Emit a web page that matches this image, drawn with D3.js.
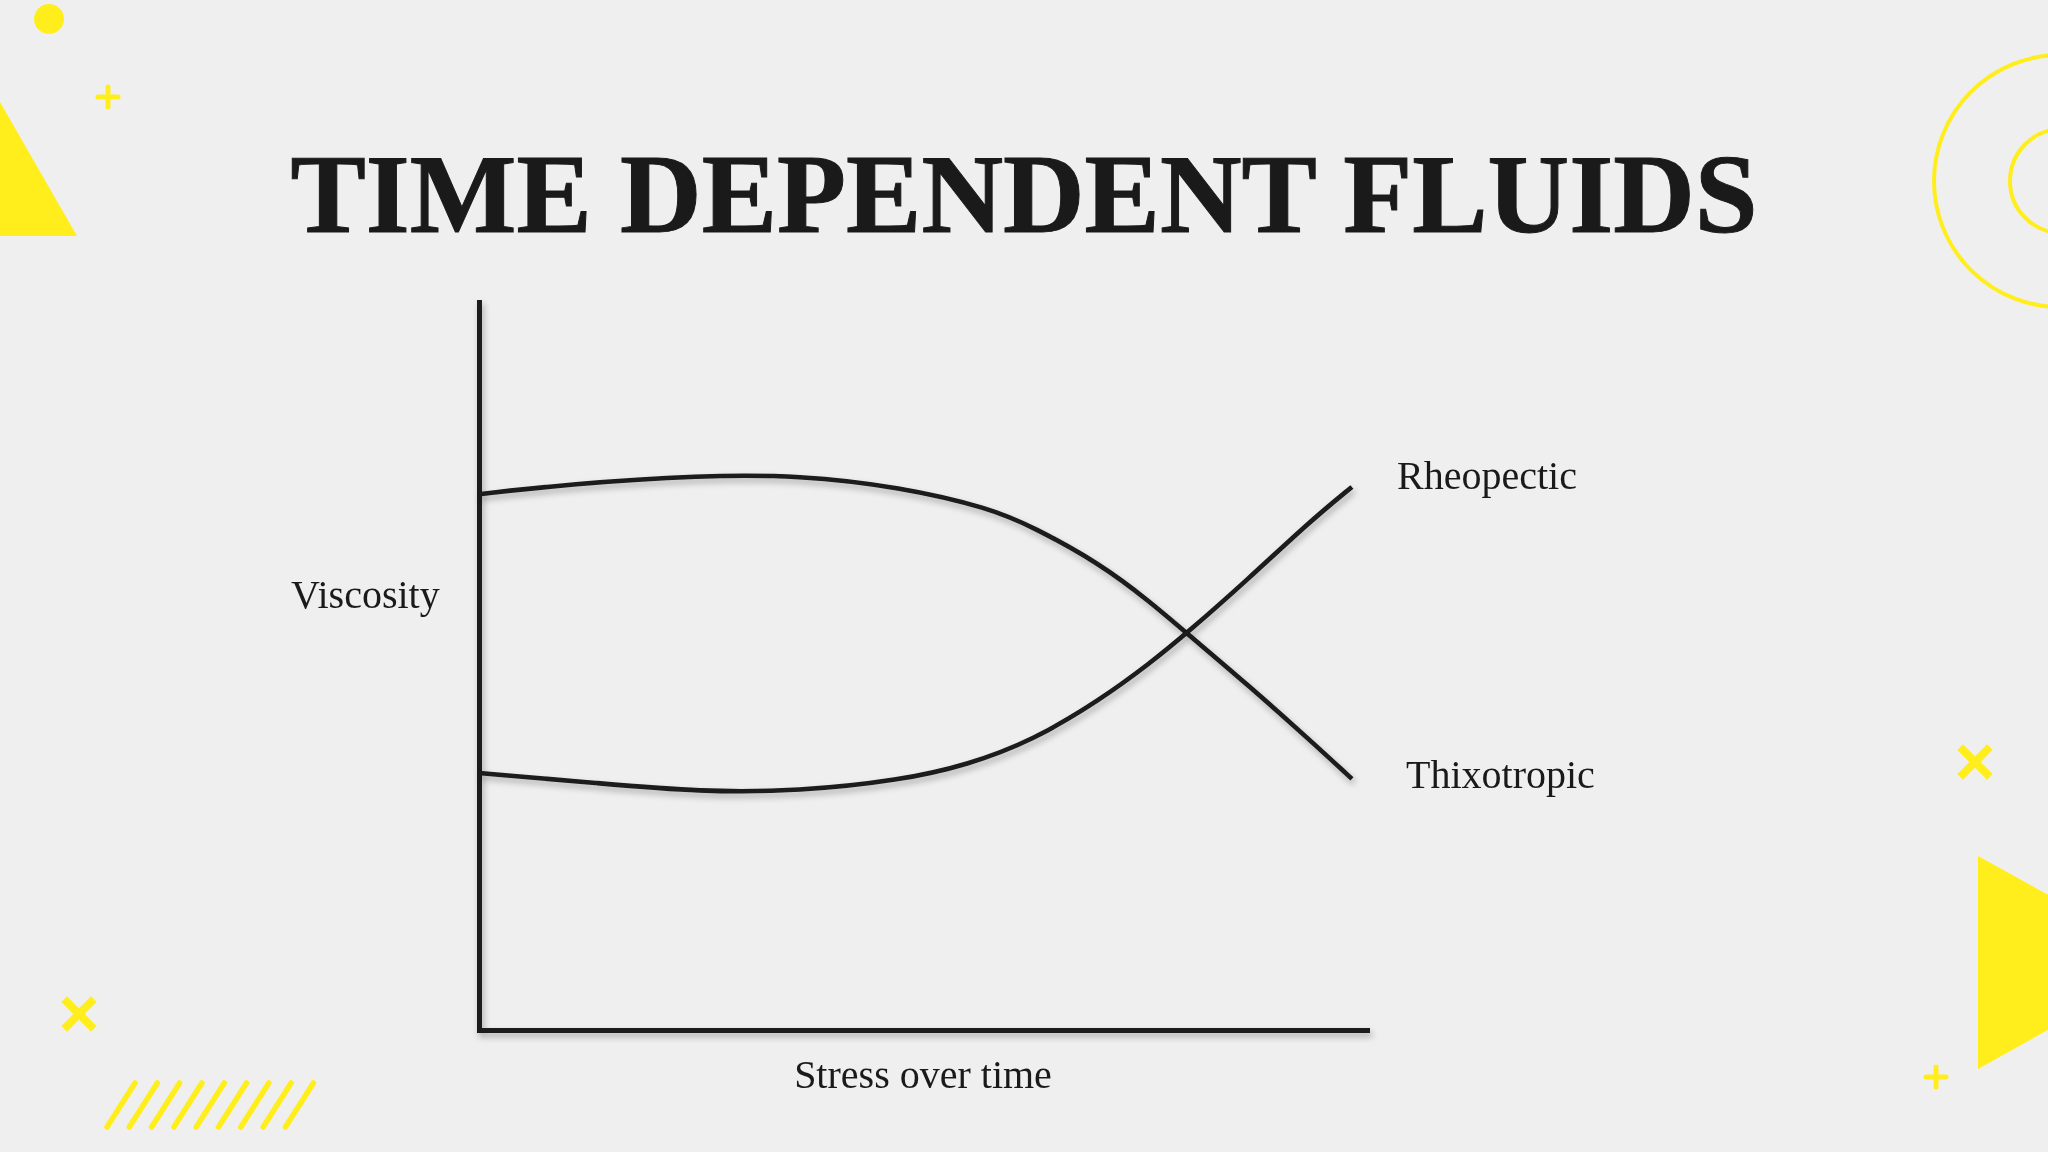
<!DOCTYPE html>
<html><head><meta charset="utf-8">
<script src="https://cdn.jsdelivr.net/npm/d3@7"></script>
<style>html,body{margin:0;padding:0;background:#efefef;overflow:hidden}</style>
</head><body>
<script>
// Data (abstract units: stress over time 0-100, viscosity 0-100)
const seriesNames = ["Thixotropic", "Rheopectic"];
const thixoX = [0, 10.2, 24.9, 36.1, 47.4, 57.5, 62.4, 69.9, 75.6, 79.7, 86.5, 93.6, 98.3];
const thixoY = [73.6, 75.0, 76.2, 76.2, 74.6, 71.7, 69.1, 64.1, 58.8, 54.5, 47.5, 39.8, 34.5];
const rheoX  = [0, 13.5, 24.9, 36.1, 47.4, 55.0, 62.4, 69.9, 75.6, 79.7, 86.5, 93.6, 98.3];
const rheoY  = [35.3, 33.9, 32.7, 32.8, 34.3, 36.4, 39.8, 45.3, 50.4, 54.5, 61.8, 69.9, 74.6];
const titleText = "TIME DEPENDENT FLUIDS";
const yLabel = "Viscosity";
const xLabel = "Stress over time";

const W = 2048, H = 1152;
const YEL = "#ffee1c", INK = "#1a1a1a";
const svg = d3.select("body").append("svg").attr("width", W).attr("height", H);
svg.append("rect").attr("width", W).attr("height", H).attr("fill", "#efefef");

const defs = svg.append("defs");
const f = defs.append("filter").attr("id", "sh").attr("x", "-10%").attr("y", "-10%").attr("width", "120%").attr("height", "130%");
f.append("feDropShadow").attr("dx", 2).attr("dy", 4).attr("stdDeviation", 3).attr("flood-color", "#000").attr("flood-opacity", 0.28);

// Decorations
const deco = svg.append("g").attr("fill", YEL).attr("stroke", YEL);
deco.append("circle").attr("cx", 49).attr("cy", 19).attr("r", 15).attr("stroke", "none");
deco.append("polygon").attr("points", "0,102 77,236 0,236").attr("stroke", "none");
function plus(cx, cy, h, w) {
  deco.append("path").attr("d", `M${cx-h},${cy}H${cx+h}M${cx},${cy-h}V${cy+h}`)
    .attr("fill", "none").attr("stroke-width", w).attr("stroke-linecap", "round");
}
function cross(cx, cy, h, w) {
  deco.append("path").attr("d", `M${cx-h},${cy-h}L${cx+h},${cy+h}M${cx+h},${cy-h}L${cx-h},${cy+h}`)
    .attr("fill", "none").attr("stroke-width", w).attr("stroke-linecap", "square");
}
plus(108, 97, 10, 5);
plus(1936, 1077, 10, 5);
cross(79, 1014, 12, 8);
cross(1975, 762, 12, 8);
deco.append("circle").attr("cx", 2060).attr("cy", 181).attr("r", 126).attr("fill", "none").attr("stroke-width", 4);
deco.append("circle").attr("cx", 2062).attr("cy", 181).attr("r", 52).attr("fill", "none").attr("stroke-width", 4);
deco.append("polygon").attr("points", "1978,856 2169,962 1978,1069").attr("stroke", "none");
for (let i = 0; i < 9; i++) {
  const bx = 107 + i * 22.3;
  deco.append("line").attr("x1", bx).attr("y1", 1127).attr("x2", bx + 28).attr("y2", 1083)
    .attr("stroke-width", 5.5).attr("stroke-linecap", "round");
}

// Title
svg.append("text").attr("x", 1024).attr("y", 232).attr("text-anchor", "middle")
  .attr("font-family", "'Liberation Serif', 'Times New Roman', serif").attr("font-weight", "bold")
  .attr("font-size", 113).attr("fill", INK).attr("stroke", INK).attr("stroke-width", 1).text(titleText);

// Chart
const x = d3.scaleLinear().domain([0, 100]).range([479, 1367]);
const y = d3.scaleLinear().domain([0, 100]).range([1030, 302]);

const axes = svg.append("g").attr("filter", "url(#sh)");
axes.append("g").attr("transform", `translate(0,${y(0)})`)
  .call(d3.axisBottom(x).tickValues([]).tickSizeOuter(0))
  .call(g => g.select(".domain").attr("stroke", INK).attr("stroke-width", 5).attr("stroke-linecap", "square"));
axes.append("g").attr("transform", `translate(${x(0)},0)`)
  .call(d3.axisLeft(y).tickValues([]).tickSizeOuter(0))
  .call(g => g.select(".domain").attr("stroke", INK).attr("stroke-width", 5).attr("stroke-linecap", "square"));

const line = d3.line().x(d => x(d[0])).y(d => y(d[1])).curve(d3.curveBasis);
const series = [
  { name: seriesNames[0], pts: thixoX.map((v, i) => [v, thixoY[i]]) },
  { name: seriesNames[1], pts: rheoX.map((v, i) => [v, rheoY[i]]) }
];
svg.append("g").attr("filter", "url(#sh)").selectAll("path").data(series).join("path")
  .attr("d", d => line(d.pts)).attr("fill", "none").attr("stroke", INK).attr("stroke-width", 4.6);

const lab = svg.append("g").attr("font-family", "'Liberation Serif', 'Times New Roman', serif")
  .attr("font-size", 40).attr("fill", INK);
lab.append("text").attr("x", 291).attr("y", 608).text(yLabel);
lab.append("text").attr("x", 923).attr("y", 1088).attr("text-anchor", "middle").text(xLabel);
lab.append("text").attr("x", 1397).attr("y", 489).text(seriesNames[1]);
lab.append("text").attr("x", 1406).attr("y", 788).text(seriesNames[0]);
</script>
</body></html>
